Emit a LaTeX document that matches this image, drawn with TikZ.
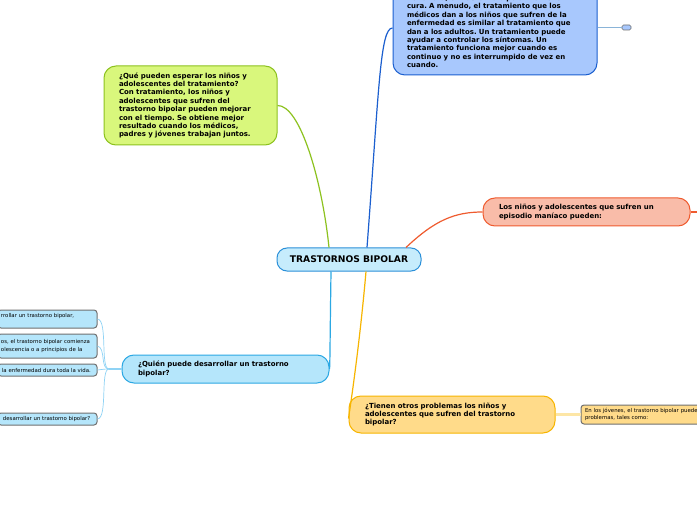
\documentclass[tikz,border=0pt]{standalone}
\usepackage{fontspec}
\setmainfont{DejaVu Sans}
\frenchspacing
\definecolor{cenfill}{HTML}{C6ECFC}
\definecolor{cendraw}{HTML}{2B90D9}
\definecolor{bluefill}{HTML}{A8C8FD}
\definecolor{bluedraw}{HTML}{1B5FCF}
\definecolor{greenfill}{HTML}{D9F77C}
\definecolor{greendraw}{HTML}{8DC21F}
\definecolor{salfill}{HTML}{F9BCA9}
\definecolor{saldraw}{HTML}{EF5B2F}
\definecolor{qfill}{HTML}{B5E6FB}
\definecolor{qdraw}{HTML}{2CA8E3}
\definecolor{yelfill}{HTML}{FFDB8A}
\definecolor{yeldraw}{HTML}{F7B500}
\definecolor{graydraw}{HTML}{707070}
\definecolor{thinblue}{HTML}{8FD3F5}
\definecolor{thinyel}{HTML}{FDE6A6}
\definecolor{thingray}{HTML}{8AB4D8}
\begin{document}
\begin{tikzpicture}[x=1bp,y=-1bp,
  bigbox/.style={rounded corners=12bp, line width=1bp, inner sep=0pt, align=left,
    font=\bfseries\fontsize{7}{8.4}\selectfont},
  smallbox/.style={rounded corners=3bp, line width=1bp, inner sep=0pt, align=left,
    font=\fontsize{5.4}{8}\selectfont, draw=graydraw},
  conn/.style={line width=1.2bp},
  leaf/.style={line width=0.7bp, draw=thinblue}]
\clip (0,0) rectangle (697,520);
\fill[white] (0,0) rectangle (697,520);

% central
\node[bigbox, rounded corners=10bp, fill=cenfill, draw=cendraw, align=center,
  minimum width=144bp, minimum height=23bp, font=\bfseries\fontsize{9.2}{10}\selectfont]
  (cen) at (349,259.5) {TRASTORNOS BIPOLAR};

% blue top
\node[bigbox, fill=bluefill, draw=bluedraw, minimum width=204bp, minimum height=87bp,
  text width=176bp] (blue) at (495,31.5) {Por ahora, el trastorno bipolar no tiene\\
cura. A menudo, el tratamiento que los\\
médicos dan a los niños que sufren de la\\
enfermedad es similar al tratamiento que\\
dan a los adultos. Un tratamiento puede\\
ayudar a controlar los síntomas. Un\\
tratamiento funciona mejor cuando es\\
continuo y no es interrumpido de vez en\\
cuando.};
\node[draw=graydraw, fill=bluefill, rounded corners=1.5bp, line width=0.6bp,
  minimum width=9bp, minimum height=5bp, inner sep=0pt] (bsmall) at (626.5,27.5) {};

% green
\node[bigbox, fill=greenfill, draw=greendraw, minimum width=173bp, minimum height=79bp,
  text width=143bp] (green) at (190.5,105.5) {¿Qué pueden esperar los niños y\\
adolescentes del tratamiento?\\
Con tratamiento, los niños y\\
adolescentes que sufren del\\
trastorno bipolar pueden mejorar\\
con el tiempo. Se obtiene mejor\\
resultado cuando los médicos,\\
padres y jóvenes trabajan juntos.};

% salmon
\node[bigbox, fill=salfill, draw=saldraw, minimum width=207bp, minimum height=28bp,
  text width=175bp] (sal) at (586.5,212) {Los niños y adolescentes que sufren un\\
episodio maníaco pueden:};
\coordinate (salout) at (700,212);

% quien
\node[bigbox, fill=qfill, draw=qdraw, minimum width=207bp, minimum height=28bp,
  text width=175bp] (quien) at (225.5,369) {¿Quién puede desarrollar un trastorno\\
bipolar?};
\coordinate (qj) at (109,369);

% left small nodes
\node[smallbox, fill=qfill, minimum width=99bp, minimum height=18bp, text width=93bp]
  (l1) at (47.5,319) {rrollar un trastorno bipolar,\\ \mbox{}};
\node[smallbox, fill=qfill, minimum width=99bp, minimum height=24bp, text width=93bp]
  (l2) at (47.5,346) {os, el trastorno bipolar comienza\\olescencia o a principios de la};
\node[smallbox, fill=qfill, minimum width=99bp, minimum height=12bp, text width=93bp]
  (l3) at (47.5,370) {\hspace*{1bp}la enfermedad dura toda la vida.};
\node[smallbox, fill=qfill, minimum width=99bp, minimum height=12bp, text width=93bp]
  (l4) at (47.5,419) {\hspace*{2bp}desarrollar un trastorno bipolar?};

% yellow
\node[bigbox, fill=yelfill, draw=yeldraw, minimum width=206bp, minimum height=37bp,
  text width=174bp] (yel) at (452,414.5) {¿Tienen otros problemas los niños y\\
adolescentes que sufren del trastorno\\
bipolar?};
\node[smallbox, fill=yelfill, draw=graydraw, minimum width=139bp, minimum height=19bp,
  text width=131bp, font=\fontsize{5.4}{7}\selectfont] (ysmall) at (650.5,414.5)
  {En los jóvenes, el trastorno bipolar puede\\problemas, tales como:};

% connectors
\draw[conn, draw=bluedraw] ([xshift=18bp]cen.north) .. controls (379,90) and (380,28) .. (blue.west |- 0,28);
\draw[line width=0.6bp, draw=thingray] (blue.east |- bsmall) -- (bsmall.west);
\draw[conn, draw=greendraw] ([xshift=-20bp]cen.north) .. controls (322,180) and (300,105) .. (green.east);
\draw[conn, draw=saldraw] ([xshift=57bp]cen.north) .. controls (435,220) and (455,212) .. (sal.west);
\draw[conn, draw=saldraw] (sal.east) -- (salout);
\draw[conn, draw=qdraw] ([xshift=-18bp]cen.south) .. controls (330,340) and (330,366) .. (quien.east);
\draw[conn, draw=yeldraw] ([xshift=17bp]cen.south) .. controls (360,340) and (352,395) .. ([yshift=-4bp]yel.west);
\draw[line width=3bp, draw=thinyel] (yel.east) -- (ysmall.west);
\draw[line width=2.5bp, draw=thinblue] (quien.west) -- (qj);
\draw[leaf] (qj) .. controls (100,369) and (108,320) .. (l1.east);
\draw[leaf] (qj) .. controls (100,369) and (106,348) .. (l2.east);
\draw[leaf] (qj) .. controls (102,369) and (100,370) .. (l3.east);
\draw[leaf] (qj) .. controls (100,369) and (108,418) .. (l4.east);
\end{tikzpicture}
\end{document}
